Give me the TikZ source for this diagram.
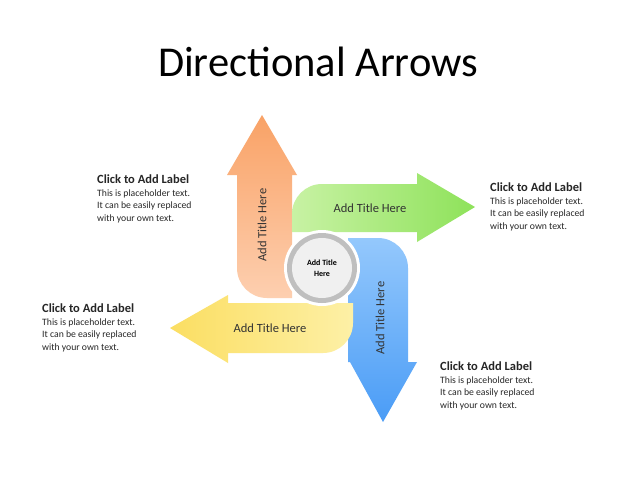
\documentclass[tikz,border=0pt]{standalone}
\usepackage{fontspec}
\setmainfont{Carlito}
\definecolor{btop}{HTML}{94C8FC}
\definecolor{bbot}{HTML}{4A9CF6}
\definecolor{otop}{HTML}{F9A266}
\definecolor{obot}{HTML}{FDCFB0}
\definecolor{gl}{HTML}{C8F2A4}
\definecolor{gr}{HTML}{8EE25A}
\definecolor{yl}{HTML}{FBDE62}
\definecolor{yr}{HTML}{FDF0A6}
\begin{document}
\begin{tikzpicture}[x=1pt,y=-1pt,
  lbl/.style={anchor=north west,align=left,font=\fontsize{9.7}{12.5}\selectfont,text=black!85,inner sep=0},
  arrtxt/.style={font=\fontsize{12.5}{14}\selectfont,text=black!80}]
\useasboundingbox[fill=white] (0,0) rectangle (640,480);
\node (title) at (318,62) {\fontsize{42.5}{48}\selectfont Directional Arrows};
% orange
\shade[top color=otop,bottom color=obot]
 (262,115) -- (297,175) -- (292,175) -- (292,298) -- (267,298) arc[start angle=90,end angle=180,radius=30] -- (237,175) -- (227,175) -- cycle;
% green
\shade[left color=gl,right color=gr]
 (475,207) -- (417,173) -- (417,184) -- (322,184) arc[start angle=270,end angle=180,radius=30] -- (292,232) -- (417,232) -- (417,242) -- cycle;
% blue
\shade[top color=btop,bottom color=bbot]
 (383,422) -- (417,362) -- (408,362) -- (408,268) arc[start angle=0,end angle=-90,radius=30] -- (348,238) -- (348,362) -- (350,362) -- cycle;
% yellow
\shade[left color=yl,right color=yr]
 (170,328) -- (228,295) -- (228,303) -- (353,303) -- (353,323) arc[start angle=0,end angle=90,radius=30] -- (228,353) -- (228,363) -- cycle;
\node[arrtxt,rotate=90] (t1) at (262,225) {Add Title Here};
\node[arrtxt] (t2) at (370,208) {Add Title Here};
\node[arrtxt,rotate=90] (t3) at (380,318) {Add Title Here};
\node[arrtxt] (t4) at (270,328) {Add Title Here};
\fill[white] (322,268) circle[radius=38];
\fill[black!25] (322,268) circle[radius=35];
\fill[black!6] (322,268) circle[radius=30];
\node[font=\bfseries\fontsize{8}{11}\selectfont,align=center] (c) at (322,268) {Add Title\\Here};
\node[lbl] (l1) at (97,175) {\textbf{\fontsize{12.5}{14}\selectfont Click to Add Label}\\This is placeholder text.\\It can be easily replaced\\with your own text.};
\node[lbl] (l2) at (490,183) {\textbf{\fontsize{12.5}{14}\selectfont Click to Add Label}\\This is placeholder text.\\It can be easily replaced\\with your own text.};
\node[lbl] (l3) at (42,304) {\textbf{\fontsize{12.5}{14}\selectfont Click to Add Label}\\This is placeholder text.\\It can be easily replaced\\with your own text.};
\node[lbl] (l4) at (440,362) {\textbf{\fontsize{12.5}{14}\selectfont Click to Add Label}\\This is placeholder text.\\It can be easily replaced\\with your own text.};
\end{tikzpicture}
\end{document}
